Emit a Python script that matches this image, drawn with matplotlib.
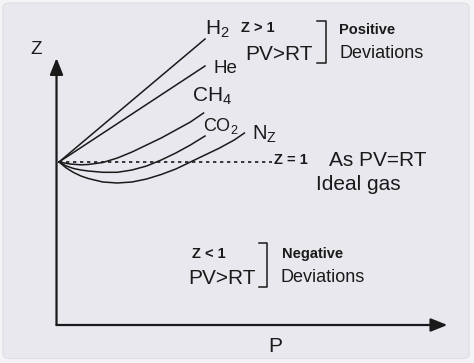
import numpy as np
import matplotlib.pyplot as plt
from matplotlib.patches import FancyBboxPatch

plt.rcParams['font.family'] = ['Liberation Sans', 'DejaVu Sans']
plt.rcParams['mathtext.default'] = 'regular'

# compressibility factor Z against pressure P (arbitrary units, Z=1 ideal)
p_lin = [0, 10]
z_h2 = [1.0, 2.23]
z_he = [1.0, 1.96]
p_ch4 = [0, 0.75, 1.5, 2, 3, 4, 5, 6, 7, 8, 9, 9.9]
z_ch4 = [1.0, 0.98, 0.972, 0.975, 0.995, 1.04, 1.10, 1.17, 1.24, 1.32, 1.40, 1.49]
p_co2 = [0, 0.5, 1, 1.5, 2, 3, 4, 5, 6, 7, 8, 9, 10]
z_co2 = [1.0, 0.96, 0.935, 0.92, 0.91, 0.897, 0.897, 0.92, 0.96, 1.02, 1.09, 1.17, 1.26]
p_n2 = [0, 0.5, 1, 1.5, 2, 3, 4, 5, 6, 7, 8, 9, 10, 11, 12, 12.7]
z_n2 = [1.0, 0.94, 0.895, 0.86, 0.835, 0.80, 0.79, 0.80, 0.83, 0.875, 0.93, 1.00, 1.07, 1.14, 1.22, 1.29]
p_ideal = [0, 14.6]
z_ideal = [1.0, 1.0]

ink = '#1a1a1a'

fig = plt.figure(figsize=(4.74, 3.63), dpi=100)
fig.patch.set_facecolor('#f4f4f7')
ax = fig.add_axes([0, 0, 1, 1])
ax.set_facecolor('none')
ax.set_xlim(-4.04, 28.42)
ax.set_ylim(-1.01, 2.62)
ax.axis('off')
ax.add_patch(FancyBboxPatch((0.006, 0.012), 0.984, 0.98,
                            boxstyle='round,pad=0,rounding_size=0.015',
                            transform=ax.transAxes, fc='#e9e8ee',
                            ec='#e0dfe6', lw=0.8, zorder=0))

# axes with arrow heads
arr = dict(arrowstyle='-|>,head_length=1.0,head_width=0.4', lw=1.6,
           color=ink, shrinkA=0, shrinkB=0, mutation_scale=10)
ax.annotate('', xy=(-0.17, 2.04), xytext=(-0.17, -0.63), arrowprops=arr)
ax.annotate('', xy=(26.6, -0.63), xytext=(-0.17, -0.63), arrowprops=arr)
ax.text(-1.58, 2.13, 'Z', fontsize=13.5, ha='center', va='center', color=ink)
ax.text(14.8, -0.85, 'P', fontsize=15, ha='center', va='center', color=ink)

lw = 1.1
ax.plot(p_lin, z_h2, color=ink, lw=lw)
ax.plot(p_lin, z_he, color=ink, lw=lw)
ax.plot(p_ch4, z_ch4, color=ink, lw=lw)
ax.plot(p_co2, z_co2, color=ink, lw=lw)
ax.plot(p_n2, z_n2, color=ink, lw=lw)
ax.plot(p_ideal, z_ideal, color=ink, lw=1.2, linestyle=(0, (2, 2.2)))

# gas labels
ax.text(10.0, 2.27, 'H$_2$', fontsize=15, ha='left', va='baseline', color=ink)
ax.text(10.55, 1.89, 'He', fontsize=13.5, ha='left', va='baseline', color=ink)
ax.text(9.1, 1.60, 'CH$_4$', fontsize=15, ha='left', va='baseline', color=ink)
ax.text(9.85, 1.31, 'CO$_2$', fontsize=13, ha='left', va='baseline', color=ink)
ax.text(13.2, 1.22, 'N$_Z$', fontsize=14.5, ha='left', va='baseline', color=ink)

# positive deviations block
ax.text(13.6, 2.34, 'Z > 1', fontsize=10.5, fontweight='bold', ha='center', va='center', color=ink)
ax.text(15.1, 2.07, 'PV>RT', fontsize=15, ha='center', va='center', color=ink)
ax.plot([17.7, 18.3, 18.3, 17.7], [2.41, 2.41, 1.99, 1.99], color=ink, lw=1.1)
ax.text(19.2, 2.32, 'Positive', fontsize=10.5, fontweight='bold', ha='left', va='center', color=ink)
ax.text(19.2, 2.08, 'Deviations', fontsize=13, ha='left', va='center', color=ink)

# ideal gas block
ax.text(15.9, 1.02, 'Z = 1', fontsize=10.5, fontweight='bold', ha='center', va='center', color=ink)
ax.text(21.8, 1.02, 'As PV=RT', fontsize=15, ha='center', va='center', color=ink)
ax.text(20.5, 0.77, 'Ideal gas', fontsize=15, ha='center', va='center', color=ink)

# negative deviations block
ax.text(10.27, 0.08, 'Z < 1', fontsize=10.5, fontweight='bold', ha='center', va='center', color=ink)
ax.text(11.16, -0.16, 'PV>RT', fontsize=15, ha='center', va='center', color=ink)
ax.plot([13.7, 14.25, 14.25, 13.7], [0.19, 0.19, -0.25, -0.25], color=ink, lw=1.1)
ax.text(15.25, 0.08, 'Negative', fontsize=10.5, fontweight='bold', ha='left', va='center', color=ink)
ax.text(15.2, -0.15, 'Deviations', fontsize=13, ha='left', va='center', color=ink)

fig.savefig('out.png', dpi=100, facecolor=fig.get_facecolor())
